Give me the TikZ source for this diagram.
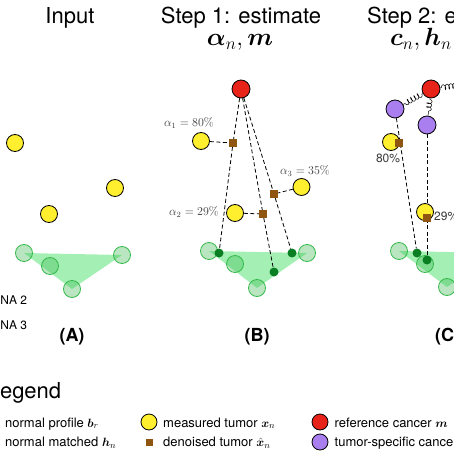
\documentclass[tikz,border=0pt]{standalone}
\usepackage[no-math]{fontspec}
\setsansfont{TeX Gyre Heros}
\usepackage{amsmath}
\usepackage{bm}
\usepackage{xcolor}
\usetikzlibrary{positioning, decorations.pathmorphing}
\definecolor{amarillo}{HTML}{FFEF2E}
\definecolor{rojo}{HTML}{E8231A}
\definecolor{morado}{HTML}{A97FEF}
\definecolor{marron}{HTML}{8E5610}
\definecolor{verde}{HTML}{36B84C}
\definecolor{verdeclaro}{HTML}{A4F0B4}
\definecolor{verdeoscuro}{HTML}{0A7E22}
\definecolor{gris}{HTML}{3A3A3A}

\begin{document}
\begin{tikzpicture}[
  x=1pt, y=-1pt,
  font=\sffamily,
  tumor/.style={circle, draw=black, line width=0.8pt, fill=amarillo, minimum size=17pt, inner sep=0pt},
  sano/.style={circle, draw=verde, line width=0.8pt, fill=verde, fill opacity=0.35, minimum size=17pt, inner sep=0pt},
  referencia/.style={circle, draw=black, line width=0.8pt, fill=rojo, minimum size=18pt, inner sep=0pt},
  especifico/.style={circle, draw=black, line width=0.8pt, fill=morado, minimum size=18pt, inner sep=0pt},
  limpio/.style={rectangle, fill=marron, minimum size=8pt, inner sep=0pt},
  punto/.style={circle, fill=verdeoscuro, minimum size=9pt, inner sep=0pt},
  arr/.style={line width=0.8pt, dash pattern=on 4pt off 2.5pt},
  muelle/.style={decorate, decoration={coil, aspect=0.45, amplitude=2.6pt, segment length=3.8pt,
      pre length=1pt, post length=1pt}, line width=0.5pt},
  tit/.style={font=\sffamily\fontsize{22}{26}\selectfont, anchor=base, inner sep=0pt},
  mat/.style={font=\fontsize{26}{30}\selectfont, anchor=base, inner sep=0pt},
  panel/.style={font=\sffamily\bfseries\fontsize{18}{22}\selectfont},
  lbl/.style={font=\fontsize{12}{14}\selectfont, text=gris},
  pct/.style={font=\sffamily\fontsize{12}{14}\selectfont, text=gris, inner sep=0pt},
  rna/.style={font=\sffamily\fontsize{12}{14}\selectfont, anchor=base west, inner sep=0pt},
  ley/.style={font=\sffamily\fontsize{13}{16}\selectfont, anchor=base west, inner sep=0pt},
]
\useasboundingbox (0,0) rectangle (454,454);
\clip (0,0) rectangle (454,454);

% --- Titulos ---
\node[tit] (tA) at (70,24) {Input};
\node[tit] (tB) at (241,24) {Step 1: estimate};
\node[mat] (mB) at (240,46) {$\bm{\alpha}_n, \bm{m}$};
\node[tit, anchor=base west] (tC) at (367,24) {Step 2: estimate};
\node[mat, anchor=base west] (mC) at (390,46) {$\bm{c}_n, \bm{h}_n$};

% --- (A) entrada ---
\coordinate (a1) at (24,253);
\coordinate (a3) at (122,255);
\coordinate (a4) at (72,289);
\fill[verdeclaro] (a1) -- (a3) -- (a4) -- cycle;
\node[sano] (gA1) at (a1) {};
\node[sano] (gA2) at (50,266) {};
\node[sano] (gA3) at (a3) {};
\node[sano] (gA4) at (a4) {};
\node[tumor] (yA1) at (15,143) {};
\node[tumor] (yA2) at (115,188) {};
\node[tumor] (yA3) at (49,214) {};
\node[rna] (nA2) at (-8.4,304) {DNA 2};
\node[rna] (nA3) at (-8.4,329) {DNA 3};
\node[panel] (pA) at (72,337) {(A)};

% --- (B) paso 1 ---
\coordinate (b1) at (209,251);
\coordinate (b3) at (307,253);
\coordinate (b4) at (257,288);
\fill[verdeclaro] (b1) -- (b3) -- (b4) -- cycle;
\node[sano] (gB1) at (b1) {};
\node[sano] (gB2) at (235,264) {};
\node[sano] (gB3) at (b3) {};
\node[sano] (gB4) at (b4) {};
\node[punto] (dB1) at (219,253) {};
\node[punto] (dB2) at (274,272) {};
\node[punto] (dB3) at (292,253) {};
\node[referencia] (rB) at (241,89) {};
\node[limpio] (sB1) at (233,143) {};
\node[limpio] (sB2) at (263,214) {};
\node[limpio] (sB3) at (274,194) {};
\draw[arr] (rB) -- (sB1) -- (dB1);
\draw[arr] (rB) -- (sB2) -- (dB2);
\draw[arr] (rB) -- (sB3) -- (dB3);
\node[lbl] (lB1) at (189,123) {$\alpha_1=80\%$};
\node[lbl] (lB2) at (194,212) {$\alpha_2=29\%$};
\node[lbl] (lB3) at (305,171) {$\alpha_3=35\%$};
\node[tumor] (yB1) at (201,141) {};
\node[tumor] (yB2) at (235,213) {};
\node[tumor] (yB3) at (301.5,187) {};
\draw[arr] (yB1) -- (sB1);
\draw[arr] (yB2) -- (sB2);
\draw[arr] (yB3) -- (sB3);
\node[limpio] at (sB1) {};
\node[limpio] at (sB2) {};
\node[limpio] at (sB3) {};
\node[panel] (pB) at (257,337) {(B)};

% --- (C) paso 2 ---
\coordinate (c1) at (399,251);
\coordinate (c3) at (497,253);
\coordinate (c4) at (447,287);
\fill[verdeclaro] (c1) -- (c3) -- (c4) -- cycle;
\node[sano] (gC1) at (c1) {};
\node[sano] (gC2) at (425,264) {};
\node[sano] (gC4) at (c4) {};
\node[punto] (dC1) at (417,253) {};
\node[punto] (dC2) at (427,260) {};
\node[referencia] (rC) at (431,89) {};
\node[especifico] (eC1) at (395,109) {};
\node[especifico] (eC2) at (427,125) {};
\coordinate (eC3) at (495,80);
\draw[muelle] (rC) -- (eC1);
\draw[muelle] (rC) -- (eC2);
\draw[muelle] (rC) -- (eC3);
\draw[arr] (eC1) -- (dC1);
\draw[arr] (eC2) -- (dC2);
\node[tumor] (yC1) at (391,142) {};
\node[tumor] (yC2) at (425,212) {};
\node[limpio] (sC1) at (399,143) {};
\node[limpio] (sC2) at (427,218) {};
\node[pct] (lC1) at (388,158) {80\%};
\node[pct, anchor=west] (lC2) at (434,216) {29\%};
\node[panel] (pC) at (447.5,337) {(C)};

% --- Leyenda ---
\node[tit, anchor=base west] (ley) at (-12.4,398) {Legend};
\node[ley] (tl1) at (5,427) {normal profile $\bm{b}_r$};
\node[ley] (tl2) at (5,446.5) {normal matched $\bm{h}_n$};
\node[tumor, minimum size=16pt] (il3) at (149,422) {};
\node[limpio, minimum size=7pt] (il4) at (149,442) {};
\node[ley] (tl3) at (163,427) {measured tumor $\bm{x}_n$};
\node[ley] (tl4) at (163,446.5) {denoised tumor $\hat{\bm{x}}_n$};
\node[referencia, minimum size=16pt] (il5) at (320,422) {};
\node[especifico, minimum size=16pt] (il6) at (320,442) {};
\node[ley] (tl5) at (334.5,427) {reference cancer $\bm{m}$};
\node[ley] (tl6) at (334.5,446.5) {tumor-specific cancer $\bm{c}_n$};

\end{tikzpicture}
\end{document}
